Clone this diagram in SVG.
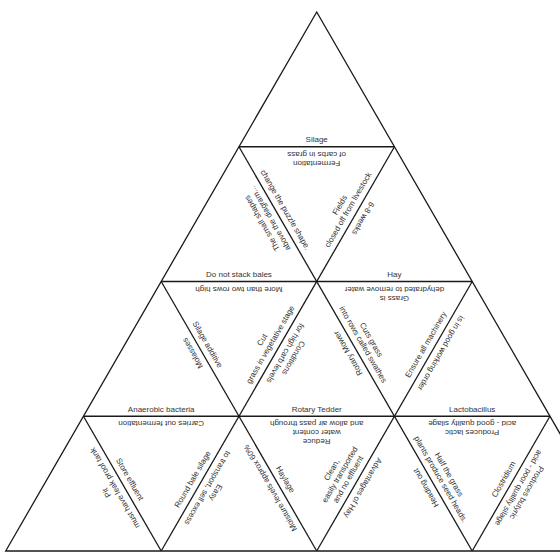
<svg xmlns="http://www.w3.org/2000/svg" width="560" height="560" viewBox="0 0 560 560">
<style>
.bg{fill:#ffffff}
.ln{stroke:#1a1a1a;stroke-width:1.3;fill:none;stroke-linejoin:miter}
.t{font-family:"Liberation Sans",Arial,sans-serif;font-size:8px;fill:#333;text-anchor:middle}
</style>
<rect class="bg" x="0" y="0" width="560" height="560"/>
<g id="connectors">
<polygon class="ln" points="316.7,12 5.7,551 627.7,551"/>
<line class="ln" x1="238.95" y1="146.75" x2="394.45" y2="146.75"/>
<line class="ln" x1="161.2" y1="281.5" x2="472.2" y2="281.5"/>
<line class="ln" x1="83.45" y1="416.25" x2="549.95" y2="416.25"/>
<line class="ln" x1="161.2" y1="551" x2="394.45" y2="146.75"/>
<line class="ln" x1="316.7" y1="551" x2="472.2" y2="281.5"/>
<line class="ln" x1="472.2" y1="551" x2="549.95" y2="416.25"/>
<line class="ln" x1="472.2" y1="551" x2="238.95" y2="146.75"/>
<line class="ln" x1="316.7" y1="551" x2="161.2" y2="281.5"/>
<line class="ln" x1="161.2" y1="551" x2="83.45" y2="416.25"/>
</g>
<g id="U0">
<g transform="translate(316.7,146.75) rotate(0)"><text class="t"><tspan x="0" y="-4.5">Silage</tspan></text></g>
</g>
<g id="D1">
<g transform="translate(316.7,146.75) rotate(180)"><text class="t"><tspan x="0" y="-14">Fermentation</tspan><tspan x="0" y="-5">of carbs in grass</tspan></text></g>
<g transform="translate(277.825,214.125) rotate(60)"><text class="t"><tspan x="0" y="-6">change the puzzle shape.</tspan></text></g>
<g transform="translate(355.575,214.125) rotate(-60)"><text class="t"><tspan x="0" y="-15.5">Fields</tspan><tspan x="0" y="-6">closed off from livestock</tspan></text></g>
</g>
<g id="U1L">
<g transform="translate(277.825,214.125) rotate(-120)"><text class="t"><tspan x="0" y="-15.5">The small shapes</tspan><tspan x="0" y="-6">above the diagram...</tspan></text></g>
<g transform="translate(238.95,281.5) rotate(0)"><text class="t"><tspan x="0" y="-4.5">Do not stack bales</tspan></text></g>
</g>
<g id="U1R">
<g transform="translate(355.575,214.125) rotate(120)"><text class="t"><tspan x="0" y="-6">6-8 weeks</tspan></text></g>
<g transform="translate(394.45,281.5) rotate(0)"><text class="t"><tspan x="0" y="-4.5">Hay</tspan></text></g>
</g>
<g id="D2L">
<g transform="translate(238.95,281.5) rotate(180)"><text class="t"><tspan x="0" y="-5">More than two rows high</tspan></text></g>
<g transform="translate(200.075,348.875) rotate(60)"><text class="t"><tspan x="0" y="-6">Silage additive</tspan></text></g>
<g transform="translate(277.825,348.875) rotate(-60)"><text class="t"><tspan x="0" y="-15.5">Cut</tspan><tspan x="0" y="-6">grass in vegetative stage</tspan></text></g>
</g>
<g id="D2R">
<g transform="translate(394.45,281.5) rotate(180)"><text class="t"><tspan x="0" y="-14">Grass is</tspan><tspan x="0" y="-5">dehydrated to remove water</tspan></text></g>
<g transform="translate(355.575,348.875) rotate(60)"><text class="t"><tspan x="0" y="-15.5">Cuts grass</tspan><tspan x="0" y="-6">into rows called swathes</tspan></text></g>
<g transform="translate(433.325,348.875) rotate(-60)"><text class="t"><tspan x="0" y="-6">Ensure all machinery</tspan></text></g>
</g>
<g id="U2a">
<g transform="translate(200.075,348.875) rotate(-120)"><text class="t"><tspan x="0" y="-6">Molasses</tspan></text></g>
<g transform="translate(161.2,416.25) rotate(0)"><text class="t"><tspan x="0" y="-4.5">Anaerobic bacteria</tspan></text></g>
</g>
<g id="U2b">
<g transform="translate(277.825,348.875) rotate(120)"><text class="t"><tspan x="0" y="-15.5">Conditions</tspan><tspan x="0" y="-6">for high carb levels</tspan></text></g>
<g transform="translate(355.575,348.875) rotate(-120)"><text class="t"><tspan x="0" y="-6">Rotary Mower</tspan></text></g>
<g transform="translate(316.7,416.25) rotate(0)"><text class="t"><tspan x="0" y="-4.5">Rotary Tedder</tspan></text></g>
</g>
<g id="U2c">
<g transform="translate(433.325,348.875) rotate(120)"><text class="t"><tspan x="0" y="-6">is in good working order</tspan></text></g>
<g transform="translate(472.2,416.25) rotate(0)"><text class="t"><tspan x="0" y="-4.5">Lactobacillus</tspan></text></g>
</g>
<g id="D3a">
<g transform="translate(161.2,416.25) rotate(180)"><text class="t"><tspan x="0" y="-5">Carries out fermentation</tspan></text></g>
<g transform="translate(122.325,483.625) rotate(60)"><text class="t"><tspan x="0" y="-6">Store effluent</tspan></text></g>
<g transform="translate(200.075,483.625) rotate(-60)"><text class="t"><tspan x="0" y="-6">Round bale silage</tspan></text></g>
</g>
<g id="D3b">
<g transform="translate(316.7,416.25) rotate(180)"><text class="t"><tspan x="0" y="-23">Reduce</tspan><tspan x="0" y="-14">water content</tspan><tspan x="0" y="-5">and allow air pass through</tspan></text></g>
<g transform="translate(277.825,483.625) rotate(60)"><text class="t"><tspan x="0" y="-6">Haylage</tspan></text></g>
<g transform="translate(355.575,483.625) rotate(-60)"><text class="t"><tspan x="0" y="-25">Clean,</tspan><tspan x="0" y="-15.5">easily transported</tspan><tspan x="0" y="-6">and no effluent</tspan></text></g>
</g>
<g id="D3c">
<g transform="translate(472.2,416.25) rotate(180)"><text class="t"><tspan x="0" y="-14">Produces lactic</tspan><tspan x="0" y="-5">acid - good quality silage</tspan></text></g>
<g transform="translate(433.325,483.625) rotate(60)"><text class="t"><tspan x="0" y="-15.5">Half the grass</tspan><tspan x="0" y="-6">plants produce seed heads.</tspan></text></g>
<g transform="translate(511.075,483.625) rotate(-60)"><text class="t"><tspan x="0" y="-6">Clostridium</tspan></text></g>
</g>
<g id="U3a">
<g transform="translate(122.325,483.625) rotate(-120)"><text class="t"><tspan x="0" y="-15.5">Pit</tspan><tspan x="0" y="-6">must have leak proof tank</tspan></text></g>
</g>
<g id="U3b">
<g transform="translate(200.075,483.625) rotate(120)"><text class="t"><tspan x="0" y="-15.5">Easy</tspan><tspan x="0" y="-6">to transport, sell excess</tspan></text></g>
<g transform="translate(277.825,483.625) rotate(-120)"><text class="t"><tspan x="0" y="-6">Moisture levels approx 60%</tspan></text></g>
</g>
<g id="U3c">
<g transform="translate(355.575,483.625) rotate(120)"><text class="t"><tspan x="0" y="-6">Advantages of Hay</tspan></text></g>
<g transform="translate(433.325,483.625) rotate(-120)"><text class="t"><tspan x="0" y="-6">Heading out</tspan></text></g>
</g>
<g id="U3d">
<g transform="translate(511.075,483.625) rotate(120)"><text class="t"><tspan x="0" y="-15.5">Produces butyric</tspan><tspan x="0" y="-6">acid - poor quality silage</tspan></text></g>
</g>
</svg>
